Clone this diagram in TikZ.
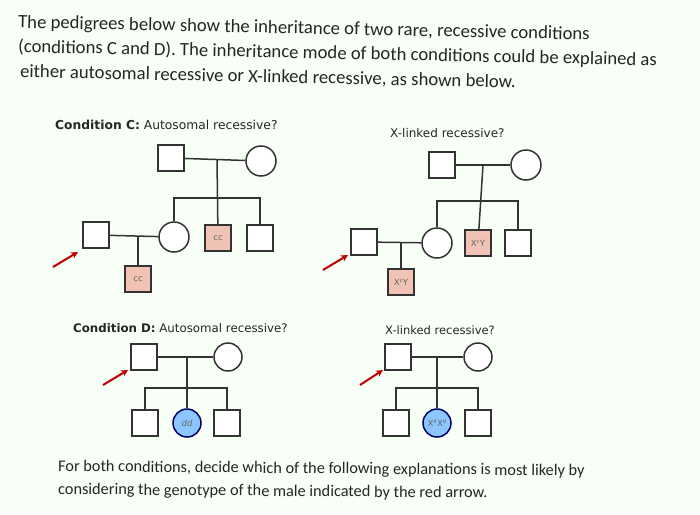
\documentclass[tikz,border=0pt]{standalone}
\usepackage{fontspec}
\usetikzlibrary{arrows.meta}
\setmainfont{Carlito}
\newfontfamily\verd{DejaVu Sans}
\begin{document}
\begin{tikzpicture}[x=1pt,y=-1pt,
  ped/.style={draw=black!80,line width=1.5pt},
  male/.style={ped,fill=white,minimum size=26pt,inner sep=0pt,rectangle},
  fem/.style={ped,fill=white,minimum size=30pt,inner sep=0pt,circle},
  aff/.style={fill=red!35!brown!35!white},
  affb/.style={fill=blue!50!cyan!45!white,draw=blue!40!black},
  ln/.style={draw=black!80,line width=1.5pt},
  arr/.style={draw=red!75!black,line width=2pt,-{Stealth[length=7pt,width=7pt]}},
  gt/.style={font=\verd\fontsize{8.5}{9}\selectfont,text=black!60},
  body/.style={font=\fontsize{18.7}{20}\selectfont,anchor=west,text=black!85,rotate=-1.2,inner sep=0pt},
  sub/.style={font=\verd\fontsize{12.3}{14}\selectfont,anchor=west,text=black!85,inner sep=0pt}]
\fill[black!5!green!3!white] (0,0) rectangle (700,514);
\useasboundingbox (0,0) rectangle (700,514);
\node[body] (t1) at (18,23) {The pedigrees below show the inheritance of two rare, recessive conditions};
\node[body] (t2) at (18,47) {(conditions C and D). The inheritance mode of both conditions could be explained as};
\node[body] (t3) at (20,72) {either autosomal recessive or X-linked recessive, as shown below.};
\node[sub] (s1) at (55,125) {\textbf{Condition C:} Autosomal recessive?};
\node[sub,font=\verd\fontsize{12}{14}\selectfont] (s2) at (390,133) {X-linked recessive?};
\node[sub,font=\verd\fontsize{11.8}{14}\selectfont] (s3) at (73,328) {\textbf{Condition D:} Autosomal recessive?};
\node[sub,font=\verd\fontsize{11.5}{14}\selectfont] (s4) at (385,330) {X-linked recessive?};
\node[font=\fontsize{16.3}{17}\selectfont,anchor=west,text=black!85,inner sep=0pt,rotate=-0.5] (b1) at (58,467) {For both conditions, decide which of the following explanations is most likely by};
\node[font=\fontsize{16.3}{17}\selectfont,anchor=west,text=black!85,inner sep=0pt,rotate=-0.5] (b2) at (58,490) {considering the genotype of the male indicated by the red arrow.};
% C autosomal
\node[male] (a1) at (171,158) {}; \node[fem] (a2) at (261,161) {};
\coordinate (am) at (217,160); \coordinate (as) at (217,198);
\node[fem] (a3) at (174,237) {}; \node[male,aff,gt] (a4) at (218,238) {cc}; \node[male] (a5) at (260,238) {};
\node[male] (a6) at (96,235) {}; \node[male,aff,gt] (a7) at (138,279) {cc};
\coordinate (ah) at (138,237);
\draw[ln] (a1) -- (a2); \draw[ln] (am) -- (a4);
\draw[ln] (a3.north) |- (as) -| (a5.north);
\draw[ln] (a6) -- (a3); \draw[ln] (ah) -- (a7);
\coordinate (ar1) at (53,267); \coordinate (ar1e) at (78,252);
\draw[arr] (ar1) -- (ar1e);
% C X-linked
\node[male] (b1) at (442,165) {}; \node[fem] (b2) at (526,165) {};
\coordinate (bm) at (483,165); \coordinate (bs) at (483,201);
\node[fem] (b3) at (437,243) {}; \node[male,aff,gt] (b4) at (478,243) {X$^{\mathrm c}$Y}; \node[male] (b5) at (518,243) {};
\node[male] (b6) at (364,242) {}; \node[male,aff,gt] (b7) at (401,282) {X$^{\mathrm c}$Y};
\coordinate (bh) at (401,242);
\draw[ln] (b1) -- (b2); \draw[ln] (bm) -- (b4);
\draw[ln] (b3.north) |- (bs) -| (b5.north);
\draw[ln] (b6) -- (b3); \draw[ln] (bh) -- (b7);
\coordinate (ar2) at (323,270); \coordinate (ar2e) at (348,255);
\draw[arr] (ar2) -- (ar2e);
% D autosomal
\node[male] (c1) at (144,357) {}; \node[fem,minimum size=28pt] (c2) at (228,357) {};
\coordinate (cm) at (187,357); \coordinate (cs) at (187,388);
\node[male] (c3) at (145,423) {}; \node[fem,minimum size=28pt,affb,gt] (c4) at (187,423) {\itshape dd}; \node[male] (c5) at (227,423) {};
\draw[ln] (c1) -- (c2); \draw[ln] (cm) -- (c4);
\draw[ln] (c3.north) |- (cs) -| (c5.north);
\coordinate (ar3) at (103,385); \coordinate (ar3e) at (128,370);
\draw[arr] (ar3) -- (ar3e);
% D X-linked
\node[male] (d1) at (398,357) {}; \node[fem,minimum size=28pt] (d2) at (478,357) {};
\coordinate (dm) at (437,357); \coordinate (ds) at (437,388);
\node[male] (d3) at (396,423) {}; \node[fem,minimum size=28pt,affb,gt] (d4) at (437,423) {X$^{\mathrm d}$X$^{\mathrm d}$}; \node[male] (d5) at (478,423) {};
\draw[ln] (d1) -- (d2); \draw[ln] (dm) -- (d4);
\draw[ln] (d3.north) |- (ds) -| (d5.north);
\coordinate (ar4) at (360,385); \coordinate (ar4e) at (383,370);
\draw[arr] (ar4) -- (ar4e);
\end{tikzpicture}
\end{document}
